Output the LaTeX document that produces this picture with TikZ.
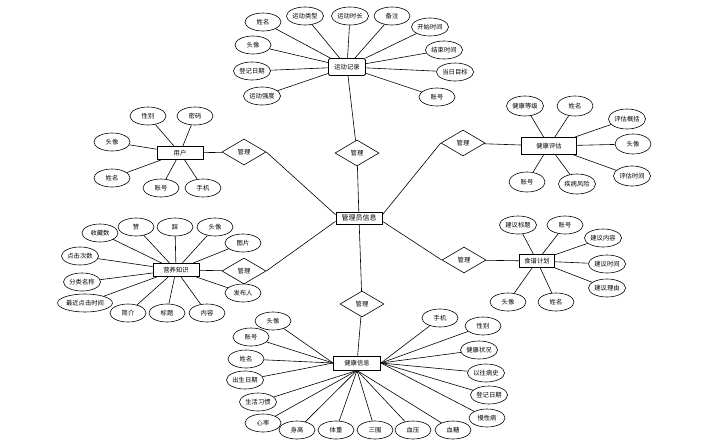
\documentclass[tikz,border=0pt]{standalone}
\usepackage{fontspec}
\setmainfont{Noto Sans CJK SC}
\usetikzlibrary{shapes.geometric}
\begin{document}
\begin{tikzpicture}[x=1pt,y=-1pt,
  every node/.style={font=\fontsize{6.3}{7}\selectfont},
  ent/.style={draw, fill=white, line width=0.9pt, minimum height=13pt, inner sep=1.5pt},
  attr/.style={draw, ellipse, fill=white, line width=0.6pt, minimum width=36pt, minimum height=18pt, inner sep=0.5pt},
  rel/.style={draw, diamond, fill=white, line width=0.6pt, minimum width=44pt, minimum height=26pt, inner sep=0pt},
  lk/.style={line width=0.6pt}]
\useasboundingbox (0,0) rectangle (703,447);
\fill[white] (0,0) rectangle (703,447);

% entities
\node[ent, rounded corners=2pt, minimum width=37pt, minimum height=17pt] (yd) at (347,67) {运动记录};
\node[ent, minimum width=46pt] (yh) at (180,153) {用户};
\node[ent, minimum width=46pt] (yy) at (176,270) {营养知识};
\node[ent, minimum width=55pt, minimum height=17pt] (pg) at (549,146) {健康评估};
\node[ent, minimum width=35pt] (sp) at (537,261) {食谱计划};
\node[ent, minimum width=47pt, minimum height=14pt] (xx) at (357,363) {健康信息};
\node[ent, minimum width=46pt, minimum height=12pt, font=\fontsize{7}{8}\selectfont] (gl) at (359,218) {管理员信息};

% relations
\node[rel] (d1) at (357,153) {管理};
\node[rel] (d2) at (244,152) {管理};
\node[rel] (d3) at (244,271) {管理};
\node[rel] (d4) at (463,143) {管理};
\node[rel] (d5) at (464,260) {管理};
\node[rel] (d6) at (362,304) {管理};

\draw[lk] (yd) -- (d1) -- (gl);
\draw[lk] (yh) -- (d2); \draw[lk] (d2.east) -- (gl.172);
\draw[lk] (yy) -- (d3); \draw[lk] (d3.east) -- (gl.188);
\draw[lk] (d4.west) -- (gl.8); \draw[lk] (d4) -- (pg);
\draw[lk] (d5.west) -- (gl.352); \draw[lk] (d5) -- (sp);
\draw[lk] (gl) -- (d6) -- (xx);

% 运动记录 attributes
\foreach \n/\p/\t in {a1/{263,22}/姓名, a2/{305,16}/运动类型, a3/{350,16}/运动时长, a4/{392,16}/备注,
  a5/{430,27}/开始时间, a6/{444,50}/结束时间, a7/{455,72}/当日目标, a8/{437,97}/账号,
  a9/{262,96}/运动强度, a10/{252,71}/登记日期, a11/{253,45}/头像}
  {\node[attr] (yd\n) at (\p) {\t}; \draw[lk] (yd\n) -- (yd);}

% 用户 attributes
\foreach \n/\p/\t in {b1/{148,116}/性别, b2/{195,116}/密码, b3/{112,142}/头像, b4/{112,178}/姓名,
  b5/{161,188}/账号, b6/{203,188}/手机}
  {\node[attr] (yh\n) at (\p) {\t}; \draw[lk] (yh\n) -- (yh);}

% 营养知识 attributes
\foreach \n/\p/\t in {c1/{100,233}/收藏数, c2/{136,227}/赞, c3/{175,227}/踩, c4/{215,227}/头像,
  c5/{243,243}/图片, c6/{80,256}/点击次数, c7/{82,282}/分类名称, c9/{128,313}/简介,
  c10/{167,313}/标题, c11/{207,313}/内容, c12/{243,293}/发布人}
  {\node[attr] (yy\n) at (\p) {\t}; \draw[lk] (yy\n) -- (yy);}
\node[attr] (yyc8) at (85,303) {最近点击时间}; \draw[lk] (yyc8) -- (yy);

% 健康评估 attributes
\foreach \n/\p/\t in {e1/{525,106}/健康等级, e2/{575,106}/姓名, e3/{627,119}/评估概括, e4/{633,144}/头像,
  e5/{632,176}/评估时间, e6/{527,182}/账号, e7/{577,184}/疾病风险}
  {\node[attr, minimum height=20pt] (pg\n) at (\p) {\t}; \draw[lk] (pg\n) -- (pg);}

% 食谱计划 attributes
\foreach \n/\p/\t in {f1/{518,225}/建议标题, f2/{565,225}/账号, f3/{603,238}/建议内容, f4/{607,264}/建议时间,
  f5/{607,288}/建议理由, f6/{508,302}/头像, f7/{556,302}/姓名}
  {\node[attr] (sp\n) at (\p) {\t}; \draw[lk] (sp\n) -- (sp);}

% 健康信息 attributes
\foreach \n/\p/\t in {g1/{273,321}/头像, g2/{251,337}/账号, g3/{246,359}/姓名, g4/{245,380}/出生日期}
  {\node[attr] (xx\n) at (\p) {\t}; \draw[lk] (xx\n) -- (xx.west);}
\foreach \n/\p/\t in {h1/{258,402}/生活习惯, h2/{263,423}/心率, h3/{297,430}/身高, h4/{336,430}/体重,
  h5/{375,430}/三围, h6/{413,430}/血压, h7/{453,430}/血糖}
  {\node[attr] (xx\n) at (\p) {\t}; \draw[lk] (xx\n) -- (xx.south);}
\foreach \n/\p/\t in {k1/{487,418}/慢性病, k2/{489,395}/登记日期, k3/{486,373}/以往病史, k4/{479,350}/健康状况,
  k5/{483,326}/性别, k6/{440,318}/手机}
  {\node[attr] (xx\n) at (\p) {\t}; \draw[lk] (xx\n) -- (xx.east);}
\end{tikzpicture}
\end{document}
